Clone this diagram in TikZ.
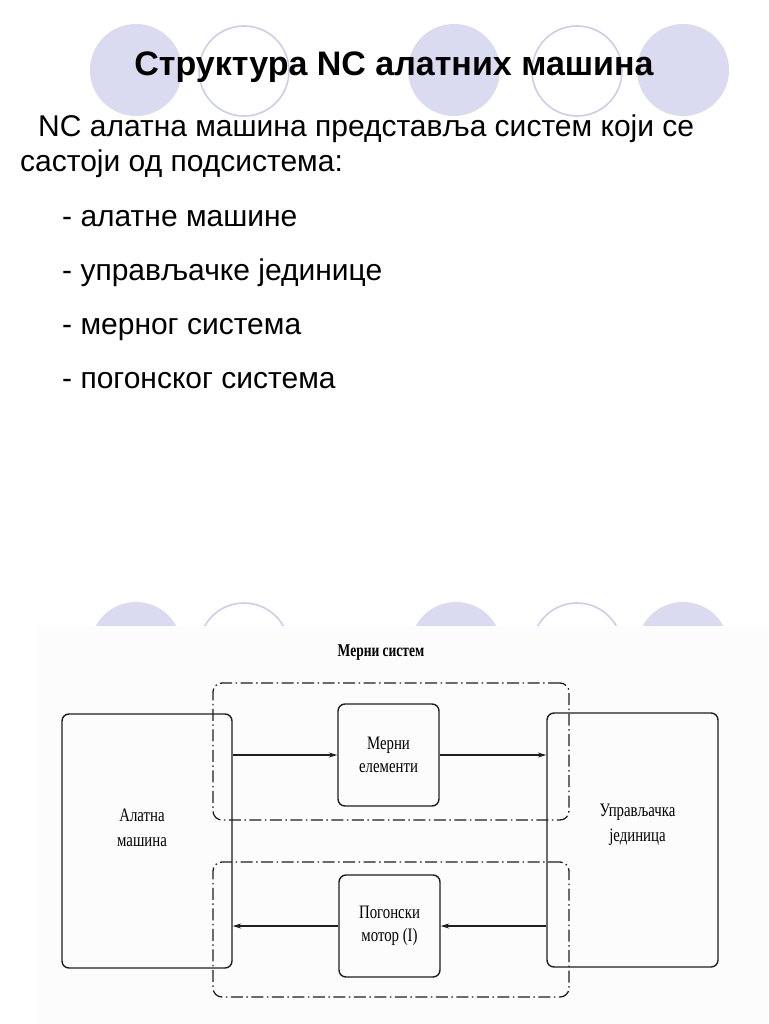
\documentclass[tikz,border=0pt]{standalone}
\usepackage{fontspec}
\setmainfont{Liberation Sans}
\newfontfamily\diagfont[FakeStretch=0.78]{Liberation Serif}
\newfontfamily\diagboldfont[FakeStretch=0.75]{Liberation Serif Bold}
\usetikzlibrary{arrows.meta}
\definecolor{lav}{RGB}{218,218,240}
\definecolor{lavline}{RGB}{205,205,235}
\definecolor{ink}{RGB}{30,30,30}
\tikzset{
  dotcircle/.style={fill=lav, draw=none},
  ringcircle/.style={draw=lavline, line width=1.6pt, fill=none},
  blockbox/.style={draw=ink, line width=1.4pt, rounded corners=7pt, inner sep=0pt, font=\diagfont\fontsize{19}{22.5}\selectfont, align=center},
  boxlabel/.style={font=\diagfont\fontsize{19}{25}\selectfont, align=center},
  groupframe/.style={draw=ink, line width=1.3pt, rounded corners=9pt, inner sep=0pt, dash pattern=on 12pt off 3.5pt on 1.5pt off 3.5pt},
  flow/.style={draw=ink, line width=1.3pt, -{Stealth[length=8.5pt,width=5pt]}},
  bodytext/.style={anchor=base west, inner sep=0pt, font=\fontsize{30}{36}\selectfont},
}
\begin{document}
\begin{tikzpicture}[x=1pt,y=-1pt]
\useasboundingbox (0,0) rectangle (768,1024);
\fill[white] (0,0) rectangle (768,1024);
% decorative circles, top row
\fill[dotcircle] (136,70) circle (46);
\draw[ringcircle] (244,71) circle (45);
\fill[dotcircle] (454,70) circle (46);
\draw[ringcircle] (577,71) circle (45);
\fill[dotcircle] (683,70) circle (46);
% decorative circles, lower row (covered by the scanned figure)
\fill[dotcircle] (136,648) circle (46);
\draw[ringcircle] (244,648) circle (45);
\fill[dotcircle] (456,648) circle (46);
\draw[ringcircle] (577,648) circle (45);
\fill[dotcircle] (683,648) circle (46);
% scanned figure background
\fill[gray!2] (38,626) rectangle (768,1024);
% slide text
\node[anchor=base, inner sep=0pt, font=\bfseries\fontsize{34}{40}\selectfont] (title) at (394,76) {Структура NC алатних машина};
\node[bodytext] (l1) at (38,137) {NC алатна машина представља систем који се};
\node[bodytext] (l2) at (20,172) {састоји од подсистема:};
\node[bodytext] (b1) at (62,226) {- алатне машине};
\node[bodytext] (b2) at (62,280) {- управљачке јединице};
\node[bodytext] (b3) at (62,334) {- мерног система};
\node[bodytext] (b4) at (62,388) {- погонског система};
% diagram
\node[groupframe, minimum width=356pt, minimum height=137pt] (frameM) at (391,751.5) {};
\node[groupframe, minimum width=356pt, minimum height=135pt] (frameP) at (391,929.5) {};
\node[inner sep=0pt, font=\diagboldfont\fontsize{18}{22}\selectfont] (mslabel) at (381,653) {Мерни систем};
\node[blockbox, minimum width=170pt, minimum height=254pt,
      label={[boxlabel, xshift=-5pt, yshift=13pt]center:Алатна\\машина}] (alatna) at (147,841) {};
\node[blockbox, minimum width=171pt, minimum height=254pt,
      label={[boxlabel, xshift=5pt, yshift=15pt]center:Управљачка\\јединица}] (uprav) at (632.5,840) {};
\node[blockbox, minimum width=101pt, minimum height=102pt] (merni) at (388.5,755) {Мерни\\елементи};
\node[blockbox, minimum width=101pt, minimum height=102pt] (pogon) at (389.5,926) {Погонски\\мотор (I)};
\draw[flow] (alatna.east |- merni.west) -- (merni.west);
\draw[flow] (merni.east) -- (uprav.west |- merni.east);
\draw[flow] (uprav.west |- pogon.east) -- (pogon.east);
\draw[flow] (pogon.west) -- (alatna.east |- pogon.west);
\end{tikzpicture}
\end{document}
